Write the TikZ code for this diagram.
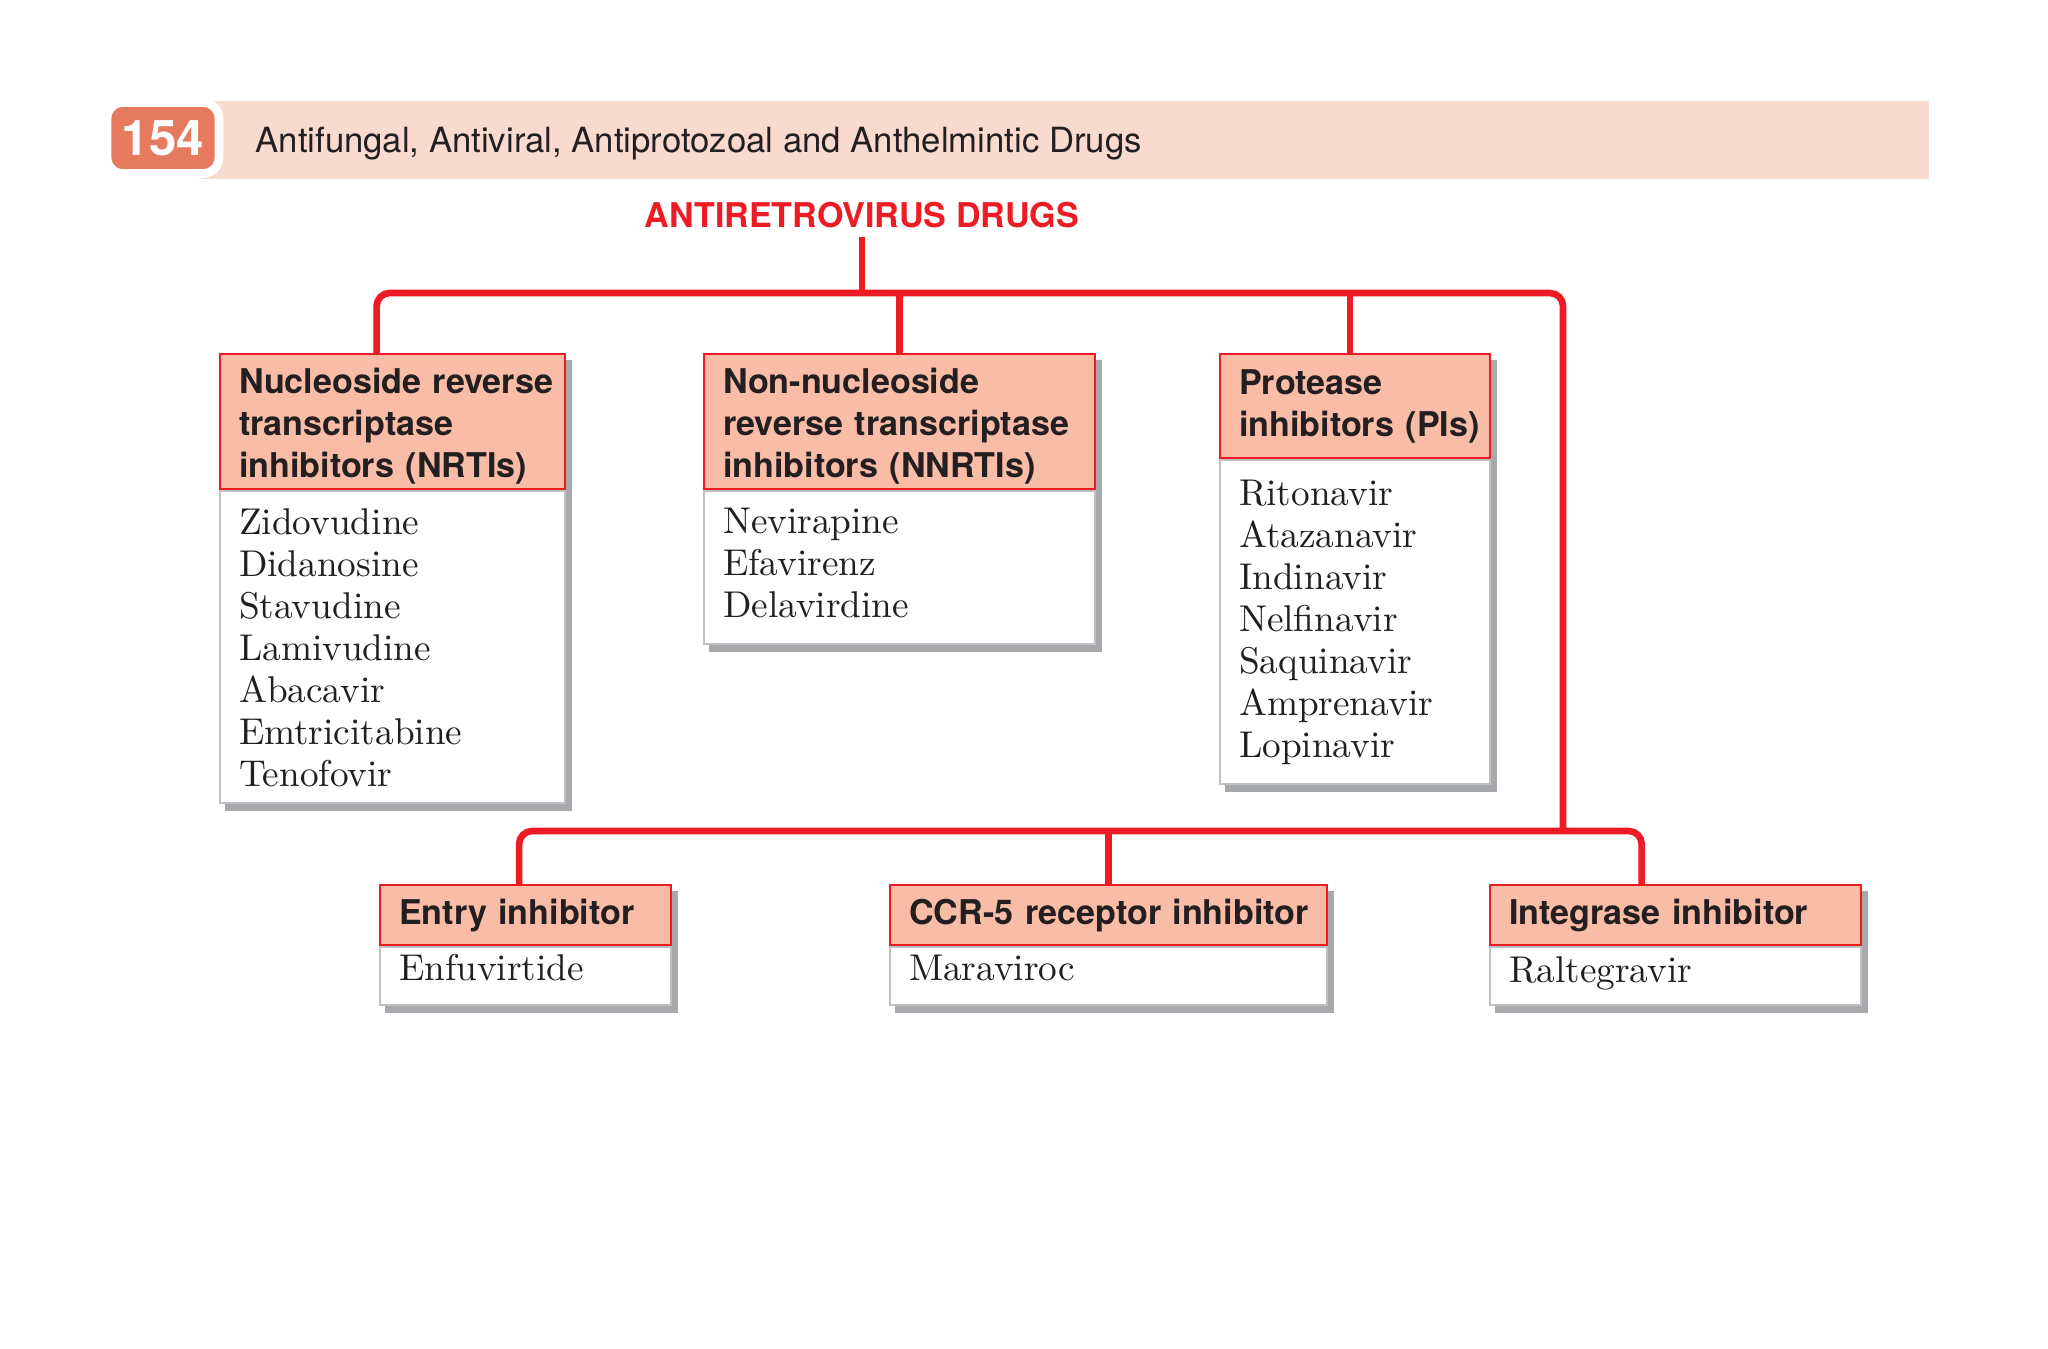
\documentclass[tikz,border=0pt]{standalone}
\usepackage{fontspec}
\setsansfont{TeX Gyre Heros}
\usetikzlibrary{positioning,backgrounds}

\definecolor{linkred}{RGB}{237,28,36}
\definecolor{headfill}{RGB}{249,188,166}
\definecolor{bandfill}{RGB}{248,218,206}
\definecolor{badgefill}{RGB}{230,122,94}
\definecolor{shadowgray}{RGB}{167,169,172}
\definecolor{listgray}{RGB}{190,192,194}
\definecolor{inktext}{RGB}{35,31,32}

\begin{document}
\begin{tikzpicture}[x=0.01cm, y=-0.01cm,
    link/.style={draw=linkred, line width=1.9pt, rounded corners=0.13cm},
    grouphead/.style={draw=linkred, fill=headfill, line width=0.6pt, anchor=north west,
      inner xsep=0.19cm, inner ysep=0pt, align=left, text=inktext,
      font=\sffamily\bfseries\fontsize{9.7}{11.95}\selectfont},
    druglist/.style={draw=listgray, fill=white, line width=0.6pt,
      inner xsep=0.19cm, inner ysep=0pt, align=left, text=inktext,
      font=\fontsize{10.6}{11.95}\selectfont},
    dropdown/.style={execute at begin node={\rule{0pt}{#1}}},
    liftup/.style={execute at end node={\rule[-#1]{0pt}{0pt}}},
    badge/.style={fill=badgefill, draw=white, line width=2.5pt, rounded corners=0.16cm,
      minimum width=1.12cm, minimum height=0.71cm, inner sep=0pt, text=white,
      font=\sffamily\bfseries\fontsize{14}{14}\selectfont}]
  \useasboundingbox (0,0) rectangle (2048,1348);

  % page header
  \fill[bandfill] (200,101) rectangle (1929,179);
  \node[badge] (chapno) at (163,138) {154};
  \node[anchor=west, inner sep=0pt, text=inktext,
        font=\sffamily\fontsize{9.87}{12}\selectfont] (chaptitle) at (255,144)
        {Antifungal, Antiviral, Antiprotozoal and Anthelmintic Drugs};

  \node[inner sep=2.5pt, text=linkred, font=\sffamily\bfseries\fontsize{9.7}{12}\selectfont]
        (title) at (862,215) {ANTIRETROVIRUS DRUGS};

  % upper row
  \node[grouphead, dropdown=10pt, text width=3.07cm, minimum height=1.35cm] (nrti) at (219,353)
        {\mbox{Nucleoside reverse}\\ transcriptase\\ \mbox{inhibitors (NRTIs)}};
  \node[druglist, text width=3.07cm, minimum height=3.12cm, below=0pt of nrti] (nrtilist)
        {Zidovudine\\ Didanosine\\ Stavudine\\ Lamivudine\\ Abacavir\\ Emtricitabine\\ Tenofovir};

  \node[grouphead, dropdown=10pt, text width=3.53cm, minimum height=1.35cm] (nnrti) at (703,353)
        {Non-nucleoside\\ \mbox{reverse transcriptase}\\ \mbox{inhibitors (NNRTIs)}};
  \node[druglist, liftup=3pt, text width=3.53cm, minimum height=1.53cm, below=0pt of nnrti] (nnrtilist)
        {Nevirapine\\ Efavirenz\\ Delavirdine};

  \node[grouphead, text width=2.32cm, minimum height=1.04cm] (pi) at (1219,353)
        {Protease\\ \mbox{inhibitors (PIs)}};
  \node[druglist, text width=2.32cm, minimum height=3.24cm, below=0pt of pi] (pilist)
        {Ritonavir\\ Atazanavir\\ Indinavir\\ Nelfinavir\\ Saquinavir\\ Amprenavir\\ Lopinavir};

  % lower row
  \node[grouphead, text width=2.53cm, minimum height=0.60cm] (entry) at (379,884)
        {\mbox{Entry inhibitor}};
  \node[druglist, liftup=5pt, text width=2.53cm, minimum height=0.58cm, below=0pt of entry] (entrylist)
        {Enfuvirtide};

  \node[grouphead, text width=3.99cm, minimum height=0.60cm] (ccr) at (889,884)
        {\mbox{CCR-5 receptor inhibitor}};
  \node[druglist, liftup=5pt, text width=3.99cm, minimum height=0.58cm, below=0pt of ccr] (ccrlist)
        {Maraviroc};

  \node[grouphead, text width=3.33cm, minimum height=0.60cm] (integ) at (1489,884)
        {\mbox{Integrase inhibitor}};
  \node[druglist, liftup=4pt, text width=3.33cm, minimum height=0.58cm, below=0pt of integ] (integlist)
        {Raltegravir};

  % box shadows
  \begin{scope}[on background layer]
    \foreach \head/\list in {nrti/nrtilist, nnrti/nnrtilist, pi/pilist,
                             entry/entrylist, ccr/ccrlist, integ/integlist}
      \fill[shadowgray] ([shift={(6,7)}]\head.north west)
                        rectangle ([shift={(6,7)}]\list.south east);
  \end{scope}

  % tree
  \coordinate (upturn) at (1563,293);
  \coordinate (lowjoint) at (1563,831);
  \draw[link] ([xshift=-0.16cm]nrti.north) |- (upturn) -- (lowjoint);
  \draw[link] (title.south) -- (title.south |- upturn);
  \draw[link] (nnrti.north) -- (nnrti.north |- upturn);
  \draw[link] ([xshift=-0.05cm]pi.north) -- ([xshift=-0.05cm]pi.north |- upturn);
  \draw[link] ([xshift=-0.065cm]entry.north) |- (lowjoint) -| ([xshift=-0.34cm]integ.north);
  \draw[link] (ccr.north) -- (ccr.north |- lowjoint);
\end{tikzpicture}
\end{document}
